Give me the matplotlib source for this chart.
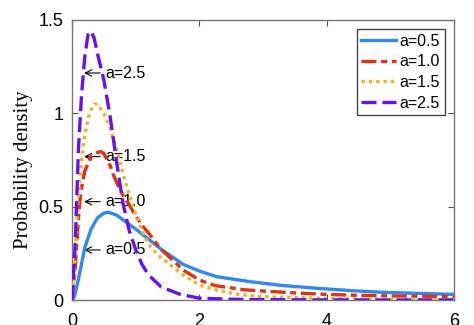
import matplotlib
matplotlib.use("Agg")
import matplotlib.pyplot as plt

# curve samples
x_05 = [0, 0.04, 0.1, 0.2, 0.3, 0.4, 0.5, 0.57, 0.7, 0.8, 0.9, 1.0, 1.15, 1.4, 1.75,
        2.0, 2.27, 2.8, 3.3, 3.84, 4.4, 4.9, 5.5, 6.0]
y_05 = [0, 0.02, 0.11, 0.28, 0.38, 0.44, 0.465, 0.47, 0.455, 0.43, 0.405, 0.38, 0.34,
        0.272, 0.19, 0.155, 0.125, 0.098, 0.078, 0.063, 0.05, 0.041, 0.035, 0.03]

x_10 = [0, 0.05, 0.1, 0.12, 0.15, 0.2, 0.3, 0.4, 0.45, 0.5, 0.6, 0.65, 0.7, 0.8, 0.9,
        1.0, 1.1, 1.2, 1.4, 1.5, 1.75, 2.0, 2.25, 2.7, 3.0, 3.5, 4.0, 4.5, 5.0, 6.0]
y_10 = [0, 0.17, 0.43, 0.52, 0.6, 0.69, 0.77, 0.79, 0.795, 0.785, 0.72, 0.67, 0.63,
        0.56, 0.51, 0.45, 0.40, 0.36, 0.27, 0.24, 0.16, 0.107, 0.077, 0.055, 0.048,
        0.038, 0.03, 0.025, 0.022, 0.018]

x_15 = [0, 0.05, 0.1, 0.15, 0.2, 0.25, 0.3, 0.35, 0.4, 0.5, 0.6, 0.7, 0.8, 0.9, 1.0,
        1.1, 1.2, 1.35, 1.5, 1.75, 2.0, 2.25, 2.6, 3.0, 4.0, 5.0, 6.0]
y_15 = [0, 0.25, 0.55, 0.75, 0.88, 0.97, 1.02, 1.05, 1.05, 1.0, 0.92, 0.81, 0.68,
        0.56, 0.46, 0.37, 0.30, 0.24, 0.2, 0.134, 0.08, 0.055, 0.03, 0.018, 0.008,
        0.004, 0.002]

x_25 = [0, 0.05, 0.1, 0.15, 0.2, 0.25, 0.3, 0.35, 0.4, 0.5, 0.6, 0.7, 0.8, 0.9, 1.0,
        1.1, 1.2, 1.4, 1.7, 2.0, 2.5, 3.0, 4.0, 5.0, 6.0]
y_25 = [0, 0.3, 0.8, 1.1, 1.3, 1.42, 1.44, 1.40, 1.32, 1.18, 0.98, 0.74, 0.52, 0.37,
        0.27, 0.19, 0.135, 0.07, 0.03, 0.01, 0.004, 0.002, 0.0005, 0, 0]

labels = ["a=0.5", "a=1.0", "a=1.5", "a=2.5"]
ann_y = [0.268, 0.527, 0.768, 1.216]   # a=0.5, a=1.0, a=1.5, a=2.5

fig = plt.figure(figsize=(4.74, 3.25), dpi=100)
ax = fig.add_axes([0.1519, 0.0769, 0.8059, 0.8616])

ax.plot(x_05, y_05, color='#3388ee', linewidth=2.4, label=labels[0], zorder=3)
ax.plot(x_10, y_10, color='#dd3311', linewidth=2.4, linestyle=(0, (4.5, 1.4, 1.8, 1.4)),
        label=labels[1], zorder=3)
ax.plot(x_15, y_15, color='#eeb222', linewidth=2.4, linestyle=(0, (1, 1.2)),
        label=labels[2], zorder=3)
ax.plot(x_25, y_25, color='#6611ee', linewidth=2.4, linestyle=(0, (4.5, 1.8)),
        label=labels[3], zorder=3)

# arrow labels
for lab, yy in zip(labels, ann_y):
    ax.annotate(lab, xy=(0.19, yy), xytext=(0.53, yy), ha='left', va='center',
                fontsize=11.5, family='Liberation Sans', zorder=1,
                arrowprops=dict(arrowstyle='->', color='black', lw=0.8,
                                shrinkA=2, shrinkB=0))

ax.set_xlim(0, 6)
ax.set_ylim(0, 1.5)
ax.set_xticks([0, 2, 4, 6])
ax.set_yticks([0, 0.5, 1, 1.5])
ax.set_yticklabels(["0", "0.5", "1", "1.5"])
ax.tick_params(direction='in', top=True, right=True, length=4, color='#555555',
               labelsize=13, pad=6)
ax.tick_params(axis='x', pad=9)
for lbl in ax.get_xticklabels() + ax.get_yticklabels():
    lbl.set_family('Liberation Sans')
for sp in ax.spines.values():
    sp.set_color('#777777')
    sp.set_linewidth(1.0)

ax.set_ylabel("Probability density", family='Liberation Serif', fontsize=15)
ax.yaxis.set_label_coords(-0.102, 0.464)

leg = ax.legend(loc='upper right', bbox_to_anchor=(0.976, 0.968), borderaxespad=0,
                handlelength=2.2, handletextpad=0.2, labelspacing=0.35,
                borderpad=0.3, fancybox=False, framealpha=1,
                prop={'family': 'Liberation Sans', 'size': 11.5})
leg.get_frame().set_edgecolor('#444444')
leg.get_frame().set_linewidth(1.0)

fig.savefig("out.png", dpi=100)
